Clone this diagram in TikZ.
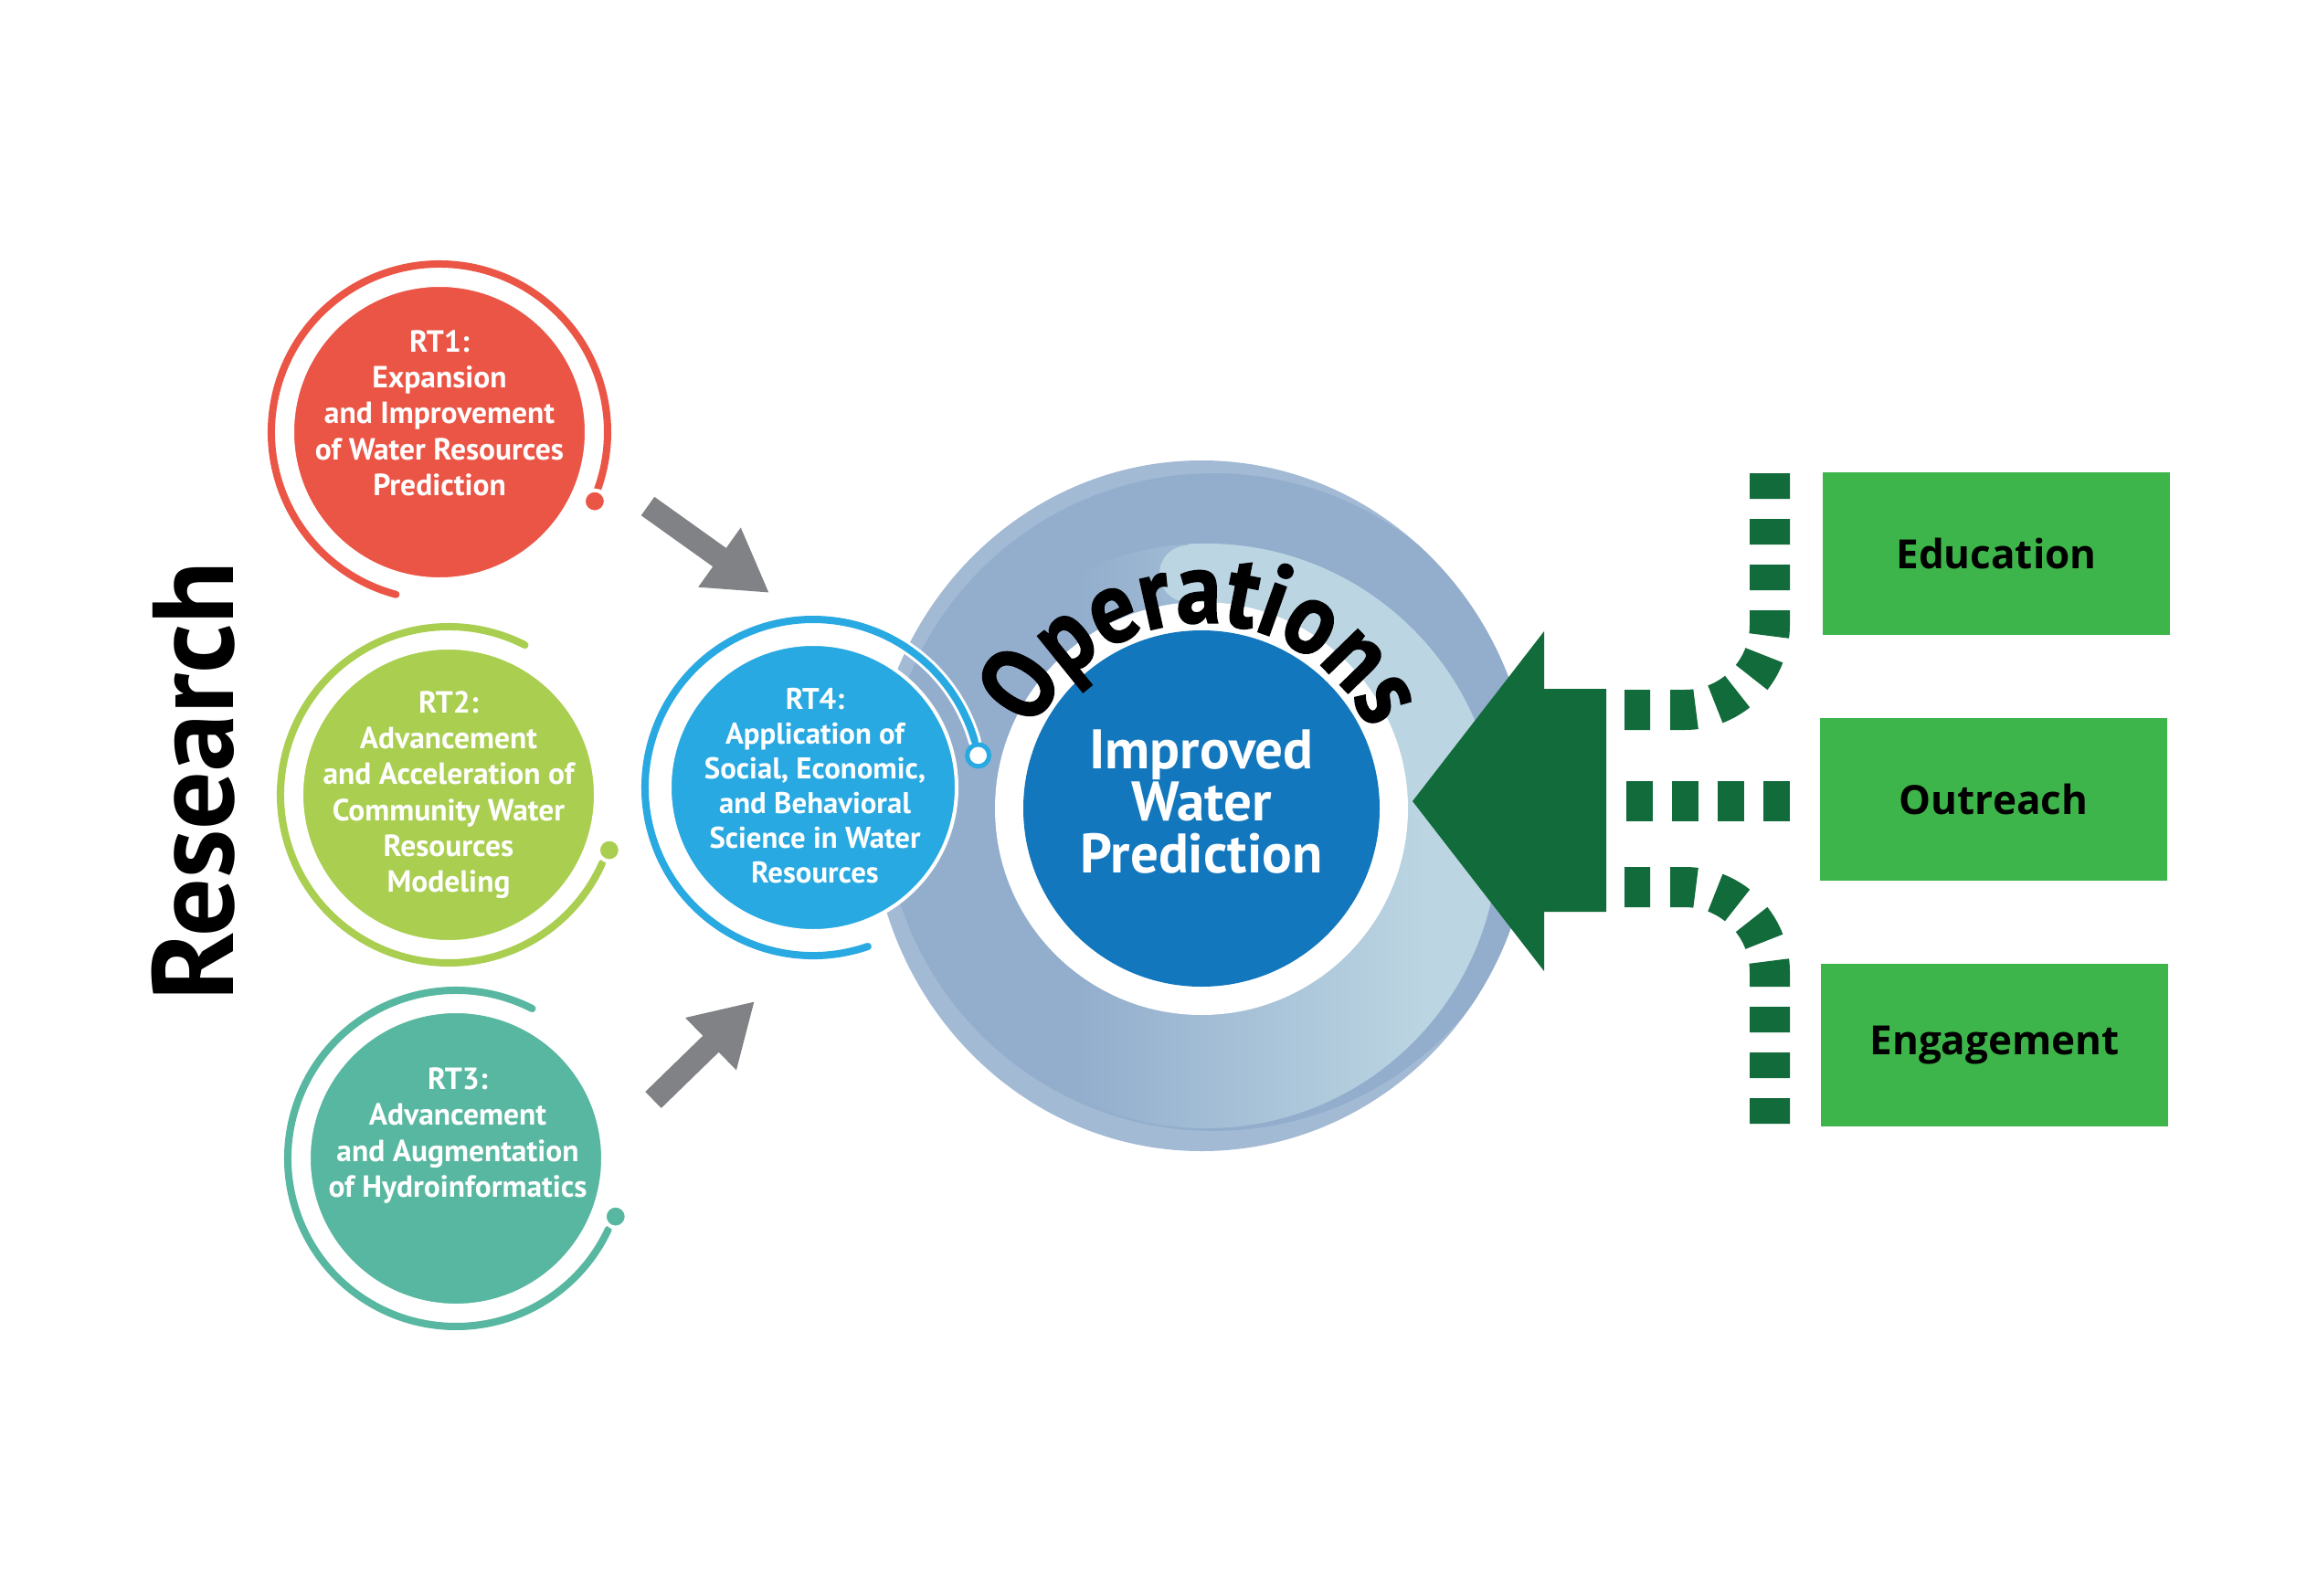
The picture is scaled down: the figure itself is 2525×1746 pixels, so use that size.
\documentclass[tikz,border=0pt]{standalone}
\usepackage{fontspec}
\setmainfont{PT Sans}
\newfontfamily\boxfont{Open Sans}
\newfontfamily\opsfam{PT Sans}[FakeStretch=0.87, FakeBold=1.3]
\usetikzlibrary{arrows.meta,decorations.text}
\definecolor{rtred}{HTML}{EB5546}
\definecolor{rtlime}{HTML}{A9CE50}
\definecolor{rtteal}{HTML}{58B7A0}
\definecolor{rtblue}{HTML}{29A9E1}
\definecolor{ipblue}{HTML}{1277BD}
\definecolor{opsdark}{HTML}{93AECD}
\definecolor{opsmid}{HTML}{A3BAD5}
\definecolor{opslight}{HTML}{BBD5E2}
\definecolor{dkgreen}{HTML}{126B3B}
\definecolor{ltgreen}{HTML}{3DB54A}
\definecolor{arrowgray}{HTML}{818286}
\begin{document}
\begin{tikzpicture}[x=1pt,y=1pt,
  rtdisk/.style={circle, inner sep=0, minimum size=322, draw=white, line width=4},
  rttext/.style={text=white, align=center, inner sep=0, font=\fontsize{33.5}{39.3}\selectfont\bfseries},
  ringhalo/.style={white, line width=14, line cap=round},
  ringline/.style={line width=8, line cap=round},
  grayarrow/.style={draw=arrowgray, line width=25, -{Triangle[width=75pt,length=67pt]}},
  dashlink/.style={draw=dkgreen, line width=44, dash pattern=on 28 off 22},
  outbox/.style={fill=ltgreen, minimum width=380, minimum height=178, inner sep=0, font=\boxfont\fontsize{44}{44}\selectfont\bfseries, text=black}
]
\fill[white] (0,0) rectangle (2525,-1746);
\useasboundingbox (0,0) rectangle (2525,-1746);

% ---- Operations background swirl
\coordinate (opc) at (1315,-885);
\fill[opsmid] (1315,-882) ellipse[x radius=362, y radius=378];
\begin{scope}
  \clip (1315,-882) ellipse[x radius=362, y radius=378];
  \fill[opsdark] (1328,-878) circle (360);
  \clip (1320,-915) circle (320);
  \shade[left color=opsdark, right color=opslight] (1180,-540) rectangle (1560,-1280);
  \fill[opslight] (1559,-540) rectangle (1700,-1280);
  \fill[opslight] (1300,-540) rectangle (1700,-885);
  \fill[opslight] (1300,-628) circle (31);
\end{scope}
\fill[white] (opc) circle (226);
\node[circle, fill=ipblue, minimum size=390, inner sep=0] (iwp) at (opc) {};
\node[text=white, align=center, inner sep=0, font=\fontsize{61}{57}\selectfont\bfseries] (iwptext) at (1315,-878) {Improved\\Water\\Prediction};
\path[decorate, decoration={text along path, text align=center,
   text={|\opsfam\fontsize{113}{113}\selectfont\bfseries|Operations}}]
   (opc) ++(160:203) arc[start angle=160, end angle=20, radius=203];

% ---- RT1
\node[rtdisk, fill=rtred] (rt1) at (481,-473) {};
\draw[ringhalo] (rt1.center) ++(255:184) arc[start angle=255, end angle=-20, radius=184];
\draw[ringline, rtred] (rt1.center) ++(255:184) arc[start angle=255, end angle=-20, radius=184];
\filldraw[fill=rtred, draw=white, line width=4] (rt1.center) ++(-24:186) circle (12);
\node[rttext] (rt1text) at (481,-452) {RT1:\\Expansion\\and Improvement\\of Water Resources\\Prediction};

% ---- RT2
\node[rtdisk, fill=rtlime] (rt2) at (491,-870) {};
\draw[ringhalo] (rt2.center) ++(63:184) arc[start angle=63, end angle=336, radius=184];
\draw[ringline, rtlime] (rt2.center) ++(63:184) arc[start angle=63, end angle=336, radius=184];
\filldraw[fill=rtlime, draw=white, line width=4] (rt2.center) ++(341:186) circle (12);
\node[rttext] (rt2text) at (491,-870) {RT2:\\Advancement\\and Acceleration of\\Community Water\\Resources\\Modeling};

% ---- RT3
\node[rtdisk, fill=rtteal] (rt3) at (499,-1268) {};
\draw[ringhalo] (rt3.center) ++(63:184) arc[start angle=63, end angle=335, radius=184];
\draw[ringline, rtteal] (rt3.center) ++(63:184) arc[start angle=63, end angle=335, radius=184];
\filldraw[fill=rtteal, draw=white, line width=4] (rt3.center) ++(340:186) circle (12);
\node[rttext] (rt3text) at (501,-1243) {RT3:\\Advancement\\and Augmentation\\of Hydroinformatics};

% ---- RT4
\node[rtdisk, fill=rtblue, minimum size=314] (rt4) at (890,-862) {};
\draw[ringhalo] (rt4.center) ++(289:184) arc[start angle=289, end angle=16, radius=184];
\draw[ringline, rtblue] (rt4.center) ++(289:184) arc[start angle=289, end angle=16, radius=184];
\filldraw[fill=white, draw=rtblue, line width=5] (rt4.center) ++(11:184) circle (12);
\node[rttext, font=\fontsize{32.8}{38}\selectfont\bfseries] (rt4text) at (892,-860) {RT4:\\Application of\\Social, Economic,\\and Behavioral\\Science in Water\\Resources};

% ---- gray arrows
\coordinate (ga1s) at (709,-554);
\coordinate (ga1e) at (842,-649);
\draw[grayarrow] (ga1s) -- (ga1e);
\coordinate (ga2s) at (715,-1204);
\coordinate (ga2e) at (826,-1096);
\draw[grayarrow] (ga2s) -- (ga2e);

% ---- big green arrow
\coordinate (gtip) at (1546,-877);
\fill[dkgreen] (gtip) -- (1690,-691) -- (1690,-754) -- (1758,-754) -- (1758,-998) -- (1690,-998) -- (1690,-1063) -- cycle;

% ---- boxes
\node[outbox] (edu) at (2185,-606) {Education};
\node[outbox] (outr) at (2182,-875) {Outreach};
\node[outbox] (eng) at (2183,-1144) {Engagement};

% ---- dashed links
\coordinate (d1a) at (1937,-518);
\coordinate (d1b) at (1778,-777);
\draw[dashlink] (d1a) -- ++(0,-166) arc[start angle=0, end angle=-90, radius=93] -- (d1b);
\coordinate (d2a) at (1780,-877);
\coordinate (d2b) at (1959,-877);
\draw[dashlink, dash pattern=on 29 off 21] (d2a) -- (d2b);
\coordinate (d3a) at (1937,-1230);
\coordinate (d3b) at (1778,-971);
\draw[dashlink] (d3a) -- ++(0,166) arc[start angle=0, end angle=90, radius=93] -- (d3b);

% ---- Research label
\node[rotate=90, anchor=base, inner sep=0, font=\fontsize{126}{126}\selectfont\bfseries] (research) at (255,-855) {Research};
\end{tikzpicture}
\end{document}
